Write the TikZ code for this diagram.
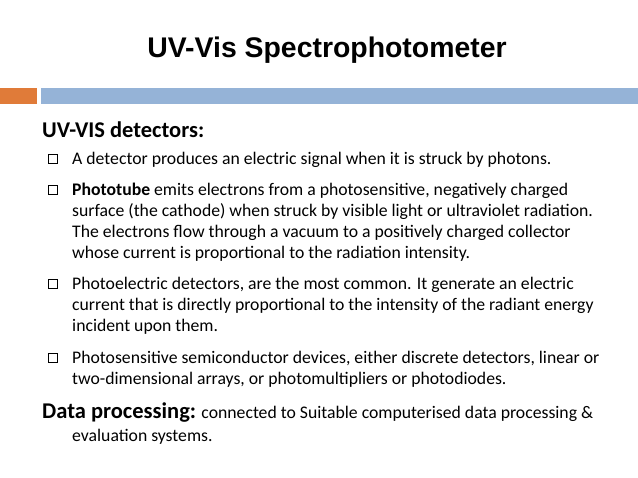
\documentclass[tikz,border=0pt]{standalone}
\usepackage{fontspec}
\setmainfont{Carlito}
\newfontfamily\titlefont{Liberation Sans}
\definecolor{barorange}{HTML}{E07B39}
\definecolor{barblue}{HTML}{95B3D7}
\begin{document}
\begin{tikzpicture}[x=1pt,y=-1pt,
  ln/.style={anchor=base west,inner sep=0pt,font=\fontsize{17.7}{20}\selectfont},
  bx/.style={draw=black,line width=0.6pt,minimum size=9pt,inner sep=0pt}]
\useasboundingbox (0,0) rectangle (638,478);
\node (title) at (327,50) {\titlefont\bfseries\fontsize{28.4}{32}\selectfont UV-Vis Spectrophotometer};
\fill[barorange] (0,88) rectangle (37,104);
\fill[barblue] (41,88) rectangle (638,104);
\node[ln,font=\fontsize{22.5}{26}\selectfont\bfseries] (h1) at (42,138) {UV-VIS detectors:};
\node[bx] (b1) at (53,159) {};
\node[ln] (l1) at (72,165) {A detector produces an electric signal when it is struck by photons.};
\node[bx] (b2) at (53,190) {};
\node[ln] (l2a) at (72,196) {\textbf{Phototube} emits electrons from a photosensitive, negatively charged};
\node[ln] (l2b) at (72,217) {surface (the cathode) when struck by visible light or ultraviolet radiation.};
\node[ln] (l2c) at (72,238) {The electrons flow through a vacuum to a positively charged collector};
\node[ln] (l2d) at (72,259) {whose current is proportional to the radiation intensity.};
\node[bx] (b3) at (53,284) {};
\node[ln] (l3a) at (72,290) {Photoelectric detectors, are the most common. It generate an electric};
\node[ln] (l3b) at (72,311) {current that is directly proportional to the intensity of the radiant energy};
\node[ln] (l3c) at (72,332) {incident upon them.};
\node[bx] (b4) at (53,358) {};
\node[ln] (l4a) at (72,364) {Photosensitive semiconductor devices, either discrete detectors, linear or};
\node[ln] (l4b) at (72,385) {two-dimensional arrays, or photomultipliers or photodiodes.};
\node[ln] (l5a) at (42,419) {{\fontsize{22.5}{26}\selectfont\bfseries Data processing:} connected to Suitable computerised data processing \&};
\node[ln] (l5b) at (72,442) {evaluation systems.};
\end{tikzpicture}
\end{document}
